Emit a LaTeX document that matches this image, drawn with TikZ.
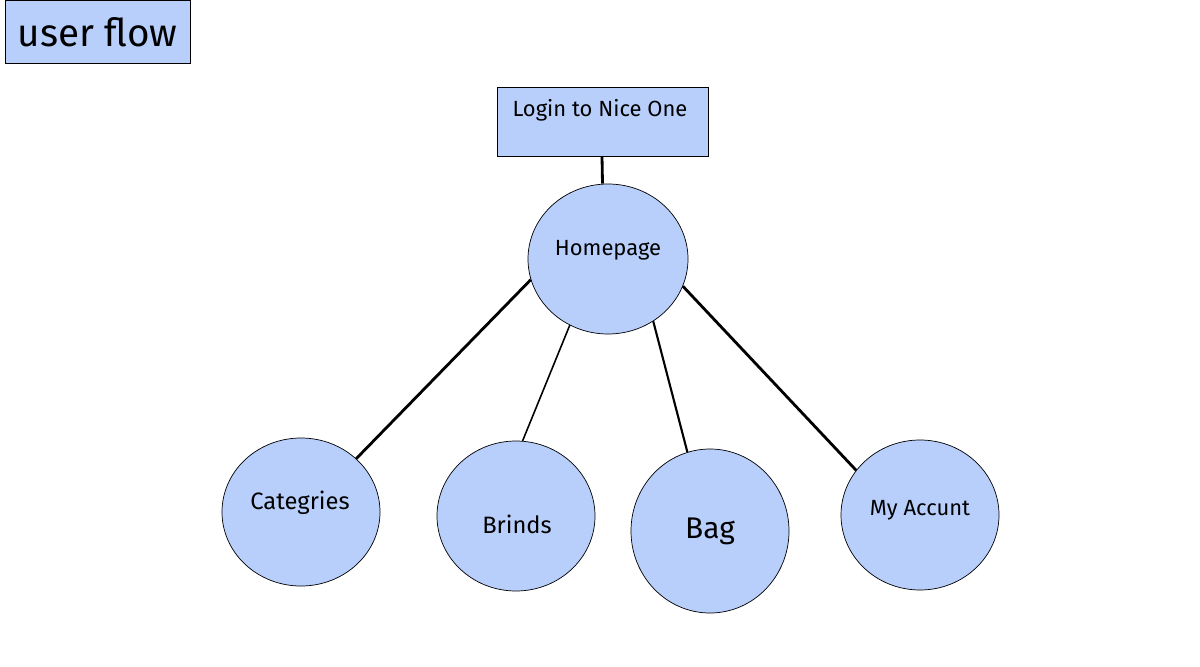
\documentclass[tikz,border=0pt]{standalone}
\usepackage{fontspec}
\setmainfont{Fira Sans}
\usetikzlibrary{shapes.geometric}
\definecolor{flowblue}{HTML}{B8CFFC}
\begin{document}
\begin{tikzpicture}[x=0.02cm,y=-0.02cm]
\tikzstyle{page}=[ellipse, draw=black, fill=flowblue, inner sep=0pt]
\tikzstyle{rect}=[rectangle, draw=black, fill=flowblue]
\tikzstyle{link}=[line width=1.6pt]
\tikzstyle{thinlink}=[line width=0.9pt]
\useasboundingbox (0,0) rectangle (1200,666);
  \node[rect, minimum width=185*0.02cm, minimum height=63*0.02cm, font=\fontsize{22}{26}\selectfont] (title) at (97.5,32) {user flow};
  \node[rect, minimum width=211*0.02cm, minimum height=69*0.02cm, font=\fontsize{12.5}{15}\selectfont] (login) at (602.5,121.5) {};
  \node[font=\fontsize{12.5}{15}\selectfont] (logintext) at (600,110) {Login to Nice One};
  \node[page, minimum width=160*0.02cm, minimum height=150*0.02cm, font=\fontsize{12.5}{15}\selectfont] (home) at (608,259) {};
  \node[font=\fontsize{12.5}{15}\selectfont] (hometext) at (608,250) {Homepage};
  \node[page, minimum width=158*0.02cm, minimum height=148*0.02cm, font=\fontsize{13.5}{16}\selectfont] (cat) at (301,512) {};
  \node[font=\fontsize{13.5}{16}\selectfont] (cattext) at (300,503) {Categries};
  \node[page, minimum width=158*0.02cm, minimum height=150*0.02cm, font=\fontsize{13.5}{16}\selectfont] (brands) at (516,516) {};
  \node[font=\fontsize{13.5}{16}\selectfont] (brandstext) at (517,524) {Brinds};
  \node[page, minimum width=158*0.02cm, minimum height=164*0.02cm, font=\fontsize{17}{20}\selectfont] (bag) at (710,531) {Bag};
  \node[page, minimum width=158*0.02cm, minimum height=150*0.02cm, font=\fontsize{12.5}{15}\selectfont] (account) at (920,515) {};
  \node[font=\fontsize{12.5}{15}\selectfont] (accounttext) at (920,510) {My Accunt};
  \draw[link] (login.south) ++(-0.5,0) -- (home.north -| login.south);
  \draw[link] (home.195) -- (cat.44);
  \draw[thinlink] (home.-120) -- (brands.85);
  \draw[link, line width=1.2pt] (home.-54) -- (bag.106);
  \draw[link] (home.-20) -- (account.145);
\end{tikzpicture}
\end{document}
